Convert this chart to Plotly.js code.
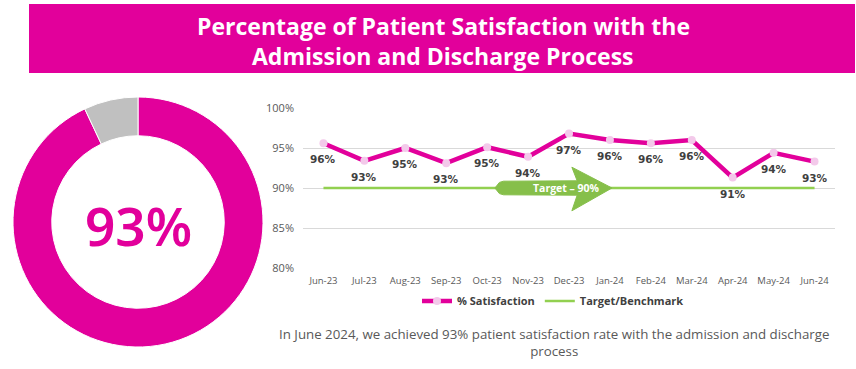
<!DOCTYPE html>
<html>
<head>
<meta charset="utf-8">
<script src="https://cdn.plot.ly/plotly-3.0.1.min.js"></script>
<style>html,body{margin:0;padding:0;background:#fff;}#chart{width:856px;height:369px;}</style>
</head>
<body>
<div id="chart"></div>
<script>
const months = ["Jun-23","Jul-23","Aug-23","Sep-23","Oct-23","Nov-23","Dec-23","Jan-24","Feb-24","Mar-24","Apr-24","May-24","Jun-24"];
const satisfaction = [95.6, 93.4, 95.0, 93.1, 95.1, 93.9, 96.8, 96.0, 95.6, 96.0, 91.3, 94.4, 93.3];
const satisfactionLabels = ["96%","93%","95%","93%","95%","94%","97%","96%","96%","96%","91%","94%","93%"];
const target = [90,90,90,90,90,90,90,90,90,90,90,90,90];
const donutLabels = ["Satisfied","Not satisfied"];
const donutValues = [93, 7];
const headline = "93%";
const titleLines = ["Percentage of Patient Satisfaction with the","Admission and Discharge Process"];
const caption = "In June 2024, we achieved 93% patient satisfaction rate with the admission and discharge<br>process";

const W = 856, H = 369;
const px = x => x / W;
const py = y => 1 - y / H;
const idx = months.map((_, i) => i);

const MAG = "#e2009b";
const FONT = "Open Sans, Noto Sans, sans-serif";

const traces = [
  {
    type: "pie",
    labels: donutLabels,
    values: donutValues,
    hole: 0.69,
    sort: false,
    direction: "clockwise",
    rotation: 0,
    textinfo: "none",
    hoverinfo: "none",
    showlegend: false,
    marker: {colors: [MAG, "#c0c0c0"], line: {color: "#ffffff", width: 1}},
    domain: {x: [px(13), px(263)], y: [py(347), py(97)]}
  },
  {
    type: "scatter",
    mode: "lines+markers",
    name: "% Satisfaction",
    x: idx,
    y: satisfaction,
    line: {color: MAG, width: 4.5},
    marker: {color: "#f3c9ea", size: 8},
    cliponaxis: false
  },
  {
    type: "scatter",
    mode: "lines",
    name: "Target/Benchmark",
    x: idx,
    y: target,
    line: {color: "#92d050", width: 2.5}
  }
];

// arrow polygon in data coordinates (x: month index, y: percent)
const arrowPts = [[4.19,90],[4.3,90.7],[4.4,90.85],[6.2,90.9],[6.07,92.6],[7.05,90],[6.07,87.15],[6.2,89.1],[4.4,89.15],[4.3,89.3]];
const arrowPath = "M " + arrowPts.map(p => p[0] + "," + p[1]).join(" L ") + " Z";

const dataLabels = idx.map(i => ({
  xref: "x", yref: "y", x: i, y: satisfaction[i], text: satisfactionLabels[i],
  showarrow: false, yshift: -16, xanchor: "center", yanchor: "middle",
  font: {family: "DejaVu Sans", size: 10.5, color: "#404040", weight: "bold"}
}));

const layout = {
  width: W, height: H,
  margin: {l: 0, r: 0, t: 0, b: 0},
  paper_bgcolor: "#ffffff",
  plot_bgcolor: "#ffffff",
  font: {family: FONT, color: "#595959"},
  showlegend: true,
  legend: {
    orientation: "h", x: px(553), xanchor: "center", y: py(301), yanchor: "middle",
    font: {family: FONT, size: 11, color: "#404040", weight: "bold"},
    itemwidth: 30, tracegroupgap: 0, bgcolor: "rgba(0,0,0,0)"
  },
  xaxis: {
    type: "linear", range: [-0.5, 12.5], domain: [px(303), px(835)],
    tickvals: idx, ticktext: months, showgrid: false, zeroline: false, showline: false,
    tickfont: {family: FONT, size: 9.5, color: "#595959"}, ticks: "", ticklabelstandoff: 5, fixedrange: true
  },
  yaxis: {
    range: [80, 100], dtick: 5, ticksuffix: "%", domain: [py(268), py(108)],
    gridcolor: "#d9d9d9", gridwidth: 1, zeroline: false, showline: false,
    tickfont: {family: FONT, size: 11, color: "#595959"}, ticks: "", ticklabelstandoff: 8, fixedrange: true
  },
  shapes: [
    {type: "rect", xref: "paper", yref: "paper", x0: px(29), x1: px(855), y0: py(73), y1: py(4),
     fillcolor: MAG, line: {width: 0}, layer: "below"},
    {type: "path", xref: "x", yref: "y", path: arrowPath, fillcolor: "#86bf4a", line: {color: "#86bf4a", width: 1}, layer: "above"}
  ],
  annotations: [
    {xref: "paper", yref: "paper", x: px(443), y: py(26), text: titleLines[0], showarrow: false,
     font: {family: FONT, size: 23, color: "#ffffff", weight: "bold"}, xanchor: "center", yanchor: "middle"},
    {xref: "paper", yref: "paper", x: px(443), y: py(56), text: titleLines[1], showarrow: false,
     font: {family: FONT, size: 23, color: "#ffffff", weight: "bold"}, xanchor: "center", yanchor: "middle"},
    {xref: "paper", yref: "paper", x: px(138), y: py(225), text: headline, showarrow: false,
     font: {family: "Noto Sans", size: 53, color: MAG, weight: 600}, xanchor: "center", yanchor: "middle"},
    {xref: "x", yref: "y", x: 5.95, y: 90, text: "Target \u2013 90%", showarrow: false,
     font: {family: FONT, size: 10.5, color: "#ffffff", weight: "bold"}, xanchor: "center", yanchor: "middle"},
    {xref: "paper", yref: "paper", x: px(554), y: py(342), text: caption, showarrow: false,
     font: {family: FONT, size: 13.3, color: "#595959"}, xanchor: "center", yanchor: "middle", align: "center"}
  ].concat(dataLabels)
};

Plotly.newPlot("chart", traces, layout, {staticPlot: true, displayModeBar: false});
</script>
</body>
</html>
